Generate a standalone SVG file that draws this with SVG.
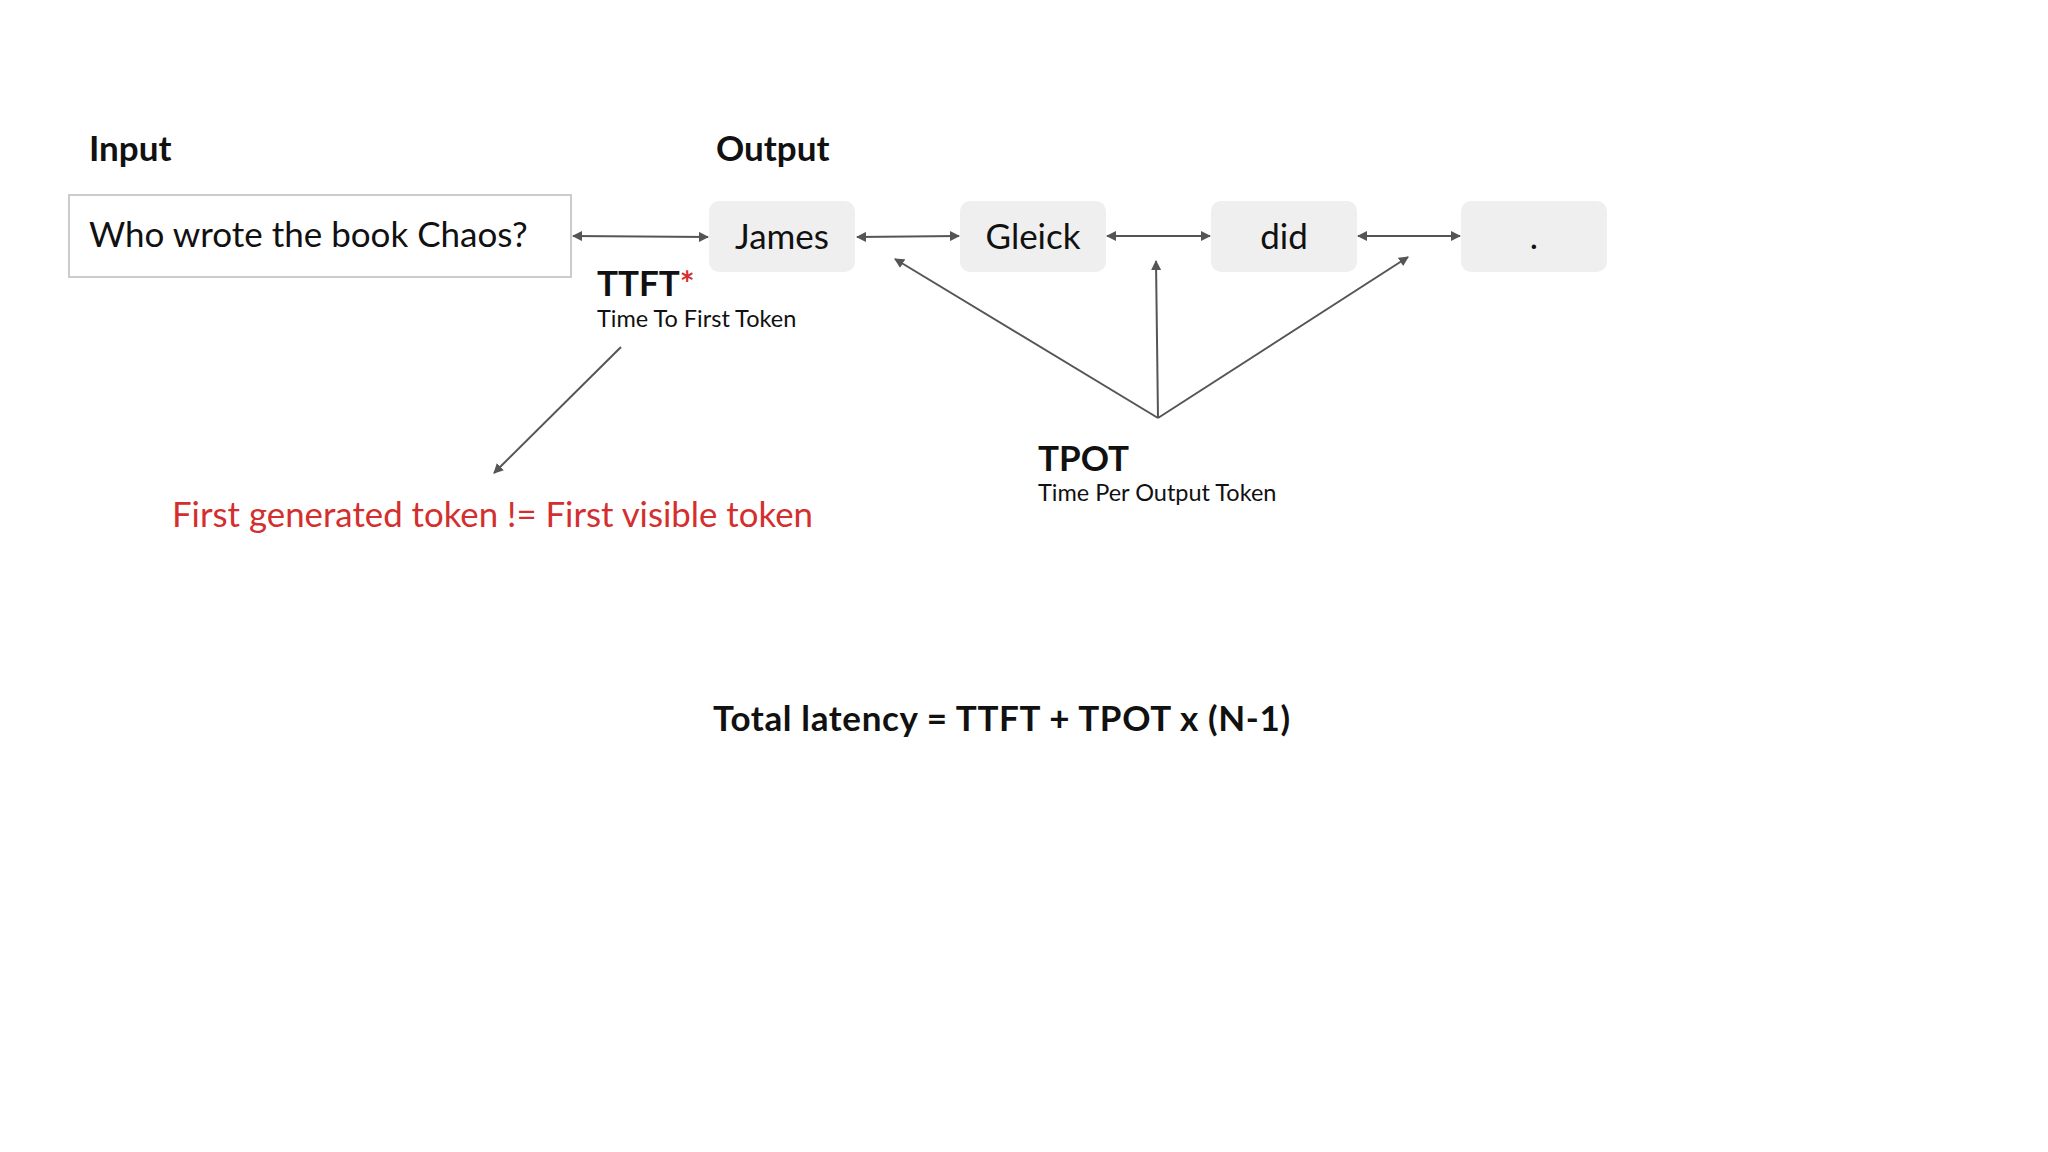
<svg xmlns="http://www.w3.org/2000/svg" width="2048" height="1152" viewBox="0 0 2048 1152">
<defs>
<style>
text{font-family:Lato,"Open Sans","Liberation Sans",sans-serif;fill:#111}
.h{font-weight:bold;font-size:35px}
.tok{font-size:35px}
.sub{font-size:23.5px}
.red{fill:#d32f2f}
.tb{fill:#efefef;stroke:none}
.c{stroke:#555;stroke-width:2;fill:none}
</style>
<marker id="ah" viewBox="0 0 10 10" refX="9" refY="5" markerWidth="10" markerHeight="10" markerUnits="userSpaceOnUse" orient="auto-start-reverse">
<path d="M0,0 L10,5 L0,10 z" fill="#555"/>
</marker>
</defs>
<rect width="2048" height="1152" fill="#fff"/>
<g id="labels">
<text class="h" x="89" y="161">Input</text>
<text class="h" x="716" y="161">Output</text>
</g>
<g id="input">
<rect x="69" y="195" width="502" height="82" fill="#fff" stroke="#cccccc" stroke-width="2"/>
<text class="tok" x="89" y="247">Who wrote the book Chaos?</text>
</g>
<g id="james">
<rect class="tb" x="709" y="201" width="146" height="71" rx="10"/>
<text class="tok" x="782" y="249" text-anchor="middle">James</text>
</g>
<g id="gleick">
<rect class="tb" x="960" y="201" width="146" height="71" rx="10"/>
<text class="tok" x="1033" y="249" text-anchor="middle">Gleick</text>
</g>
<g id="did">
<rect class="tb" x="1211" y="201" width="146" height="71" rx="10"/>
<text class="tok" x="1284" y="249" text-anchor="middle">did</text>
</g>
<g id="dot">
<rect class="tb" x="1461" y="201" width="146" height="71" rx="10"/>
<text class="tok" x="1534" y="249" text-anchor="middle">.</text>
</g>
<g id="ttft">
<text class="h" x="597" y="296">TTFT<tspan class="red">*</tspan></text>
<text class="sub" x="597" y="327">Time To First Token</text>
</g>
<g id="tpot">
<text class="h" x="1038" y="471">TPOT</text>
<text class="sub" x="1038" y="501">Time Per Output Token</text>
</g>
<g id="note">
<text class="red" x="172" y="527" font-size="34.8">First generated token != First visible token</text>
</g>
<g id="formula">
<text class="h" x="713" y="731" font-size="37" textLength="577" lengthAdjust="spacing">Total latency = TTFT + TPOT x (N-1)</text>
</g>
<g id="connectors">
<line class="c" x1="573" y1="236" x2="708" y2="237" marker-start="url(#ah)" marker-end="url(#ah)"/>
<line class="c" x1="857" y1="237" x2="959" y2="236" marker-start="url(#ah)" marker-end="url(#ah)"/>
<line class="c" x1="1107" y1="236" x2="1210" y2="236" marker-start="url(#ah)" marker-end="url(#ah)"/>
<line class="c" x1="1358" y1="236" x2="1460" y2="236" marker-start="url(#ah)" marker-end="url(#ah)"/>
<line class="c" x1="621" y1="347" x2="494" y2="473" marker-end="url(#ah)"/>
<line class="c" x1="1158" y1="418" x2="895" y2="259" marker-end="url(#ah)"/>
<line class="c" x1="1158" y1="418" x2="1156" y2="261" marker-end="url(#ah)"/>
<line class="c" x1="1158" y1="418" x2="1408" y2="257" marker-end="url(#ah)"/>
</g>
</svg>
